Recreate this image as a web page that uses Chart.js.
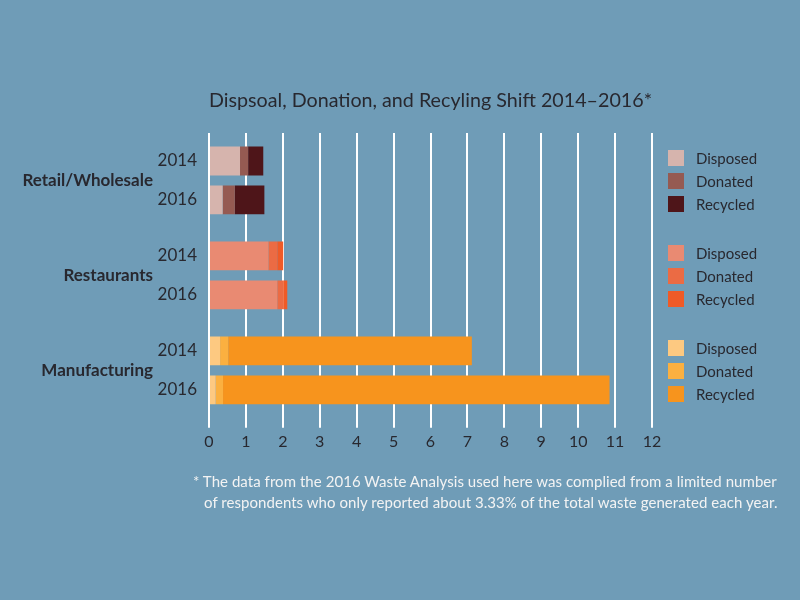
<!DOCTYPE html>
<html lang="en">
<head>
    <meta charset="UTF-8">
    <title>Dispsoal, Donation, and Recyling Shift 2014-2016</title>
    <style>
        * {
            margin: 0;
            padding: 0;
            box-sizing: border-box;
        }

        body {
            width: 800px;
            height: 600px;
            background-color: #6f9cb7;
            font-family: 'Lato', 'Open Sans', sans-serif;
            overflow: hidden;
        }

        .wrap {
            position: relative;
            width: 800px;
            height: 600px;
        }

        canvas {
            position: absolute;
            left: 0;
            top: 0;
        }

        .legend {
            position: absolute;
            left: 668px;
            top: 0;
            width: 130px;
        }

        .legend-item {
            position: absolute;
            left: 0;
            display: flex;
            align-items: center;
            font-size: 15px;
            color: #28282f;
            white-space: nowrap;
        }

        .legend-item span.box {
            display: inline-block;
            width: 16px;
            height: 16px;
            margin-right: 12px;
        }

        .note {
            position: absolute;
            left: 193px;
            top: 471px;
            font-size: 15px;
            letter-spacing: 0.05px;
            line-height: 21px;
            color: #f3f3f3;
            white-space: nowrap;
        }

        .note div + div {
            padding-left: 11px;
        }
    </style>
</head>
<body>
    <div class="wrap">
        <canvas id="chart" width="800" height="600"></canvas>
        <div class="legend" id="legend"></div>
        <div class="note">
            <div>* The data from the 2016 Waste Analysis used here was complied from a limited number</div>
            <div>of respondents who only reported about 3.33% of the total waste generated each year.</div>
        </div>
    </div>

    <script src="https://cdn.jsdelivr.net/npm/chart.js@4.4.0/dist/chart.umd.min.js"></script>
    <script>
        // Data
        const industries = ['Retail/Wholesale', 'Restaurants', 'Manufacturing'];
        const years = ['2014', '2016'];
        const types = ['Disposed', 'Donated', 'Recycled'];

        // values per industry (Retail, Restaurants, Manufacturing)
        const disposed2014 = [0.84, 1.61, 0.30];
        const donated2014 = [0.22, 0.24, 0.22];
        const recycled2014 = [0.41, 0.16, 6.60];
        const disposed2016 = [0.37, 1.85, 0.18];
        const donated2016 = [0.33, 0.16, 0.20];
        const recycled2016 = [0.80, 0.11, 10.47];

        const xTicks = [0, 1, 2, 3, 4, 5, 6, 7, 8, 9, 10, 11, 12];

        // colours per industry for each type
        const disposedColors = ['#d6b4ad', '#e98a72', '#fdc981'];
        const donatedColors = ['#955a52', '#eb6b44', '#fbb040'];
        const recycledColors = ['#4e1519', '#ef5a27', '#f7941d'];

        const textColor = '#28282f';

        const series = [
            { type: 'Disposed', year: '2014', data: disposed2014, colors: disposedColors },
            { type: 'Donated', year: '2014', data: donated2014, colors: donatedColors },
            { type: 'Recycled', year: '2014', data: recycled2014, colors: recycledColors },
            { type: 'Disposed', year: '2016', data: disposed2016, colors: disposedColors },
            { type: 'Donated', year: '2016', data: donated2016, colors: donatedColors },
            { type: 'Recycled', year: '2016', data: recycled2016, colors: recycledColors }
        ];

        // year labels next to each bar
        const yearLabels = {
            id: 'yearLabels',
            afterDatasetsDraw(chart) {
                const ctx = chart.ctx;
                ctx.save();
                ctx.font = '17px Lato';
                ctx.fillStyle = textColor;
                ctx.textAlign = 'right';
                ctx.textBaseline = 'middle';
                years.forEach(year => {
                    const idx = chart.data.datasets.findIndex(d => d.stack === year);
                    const meta = chart.getDatasetMeta(idx);
                    meta.data.forEach(bar => {
                        ctx.fillText(year, chart.chartArea.left - 12, bar.y);
                    });
                });
                ctx.restore();
            }
        };

        const chart = new Chart(document.getElementById('chart'), {
            type: 'bar',
            data: {
                labels: industries,
                datasets: series.map(s => ({
                    label: s.type + ' ' + s.year,
                    data: s.data,
                    stack: s.year,
                    backgroundColor: s.colors,
                    borderWidth: 0,
                    categoryPercentage: 0.82,
                    barPercentage: 0.74
                }))
            },
            options: {
                indexAxis: 'y',
                responsive: false,
                animation: false,
                layout: {
                    padding: { left: 0, right: 148, top: 89, bottom: 145 }
                },
                plugins: {
                    legend: { display: false },
                    tooltip: { enabled: false },
                    title: {
                        display: true,
                        fullSize: false,
                        text: 'Dispsoal, Donation, and Recyling Shift 2014\u20132016*',
                        color: textColor,
                        font: { family: 'Lato', size: 20, weight: 'normal' },
                        padding: { top: 0, bottom: 20 }
                    }
                },
                scales: {
                    x: {
                        stacked: true,
                        min: 0,
                        max: 12,
                        afterBuildTicks: scale => {
                            scale.ticks = xTicks.map(v => ({ value: v }));
                        },
                        grid: {
                            color: '#ffffff',
                            lineWidth: 2,
                            tickLength: 10,
                            drawTicks: true
                        },
                        border: { display: false },
                        ticks: {
                            color: textColor,
                            font: { family: 'Lato', size: 16 },
                            padding: 4
                        }
                    },
                    y: {
                        stacked: true,
                        afterFit: scale => {
                            scale.width = 209;
                        },
                        grid: { display: false },
                        border: { display: false },
                        ticks: {
                            color: textColor,
                            font: { family: 'Lato', size: 17, weight: 'bold' },
                            padding: 48
                        }
                    }
                }
            },
            plugins: [yearLabels]
        });

        // HTML legend, grouped by industry and aligned with the bar groups
        const legend = document.getElementById('legend');
        const yScale = chart.scales.y;
        const colorSets = [disposedColors, donatedColors, recycledColors];
        industries.forEach((name, i) => {
            const center = yScale.getPixelForValue(i);
            types.forEach((t, k) => {
                const item = document.createElement('div');
                item.className = 'legend-item';
                item.style.top = (center - 31 + k * 23) + 'px';
                item.innerHTML = '<span class="box" style="background:' + colorSets[k][i] + '"></span>' + t;
                legend.appendChild(item);
            });
        });
    </script>
</body>
</html>
